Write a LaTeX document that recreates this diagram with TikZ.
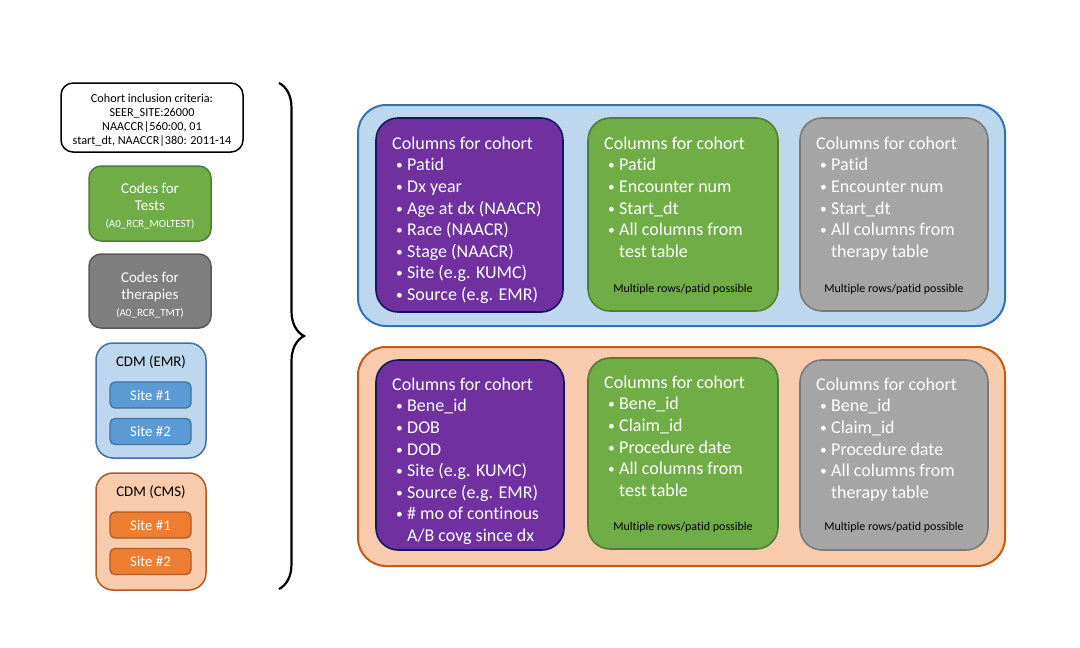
\documentclass[tikz,border=0pt]{standalone}
\usepackage{fontspec}
\setmainfont[RawFeature=-liga]{Carlito}
\usetikzlibrary{decorations.pathreplacing}
\definecolor{lblue}{HTML}{BDD7EE}
\definecolor{bblue}{HTML}{2E75B6}
\definecolor{mblue}{HTML}{5B9BD5}
\definecolor{dblue}{HTML}{41719C}
\definecolor{lorange}{HTML}{F8CBAD}
\definecolor{borange}{HTML}{C55A11}
\definecolor{morange}{HTML}{ED7D31}
\definecolor{dorange}{HTML}{AE5A21}
\definecolor{purp}{HTML}{7030A0}
\definecolor{bpurp}{HTML}{161660}
\definecolor{grn}{HTML}{70AD47}
\definecolor{bgrn}{HTML}{507E32}
\definecolor{gry}{HTML}{A5A5A5}
\definecolor{bgry}{HTML}{7A7A7A}
\definecolor{dgry}{HTML}{7F7F7F}
\definecolor{bdgry}{HTML}{5A5A5A}
\newcommand\bi[1]{\hspace*{4pt}\makebox[11pt][l]{\raisebox{0.1ex}{\scalebox{0.75}{\textbullet}}}#1}
\newcommand\ci[1]{\hspace*{15pt}#1}
\tikzset{
  bigbox/.style={draw, rounded corners=28pt, line width=2pt, anchor=north west, outer sep=0, inner sep=0},
  colbox/.style={draw, rounded corners=22pt, line width=1.6pt, anchor=north west, outer sep=0, inner sep=0},
  coltxt/.style={anchor=north west, inner sep=0, align=left, text=white, font=\fontsize{18}{21.6}\selectfont},
  multi/.style={anchor=center, inner sep=0, text=black, font=\fontsize{12}{14}\selectfont},
  leftbox/.style={draw, rounded corners=12pt, line width=1.5pt, minimum width=122pt, anchor=north west, inner sep=0, outer sep=0},
  lefttxt/.style={text=white, align=center, inner sep=0, font=\fontsize{15}{17.3}\selectfont},
  cdmbox/.style={draw, rounded corners=17pt, line width=1.5pt, minimum width=110pt, anchor=north west, inner sep=0, outer sep=0},
  sitebox/.style={draw, rounded corners=5pt, line width=1.3pt, minimum width=81pt, minimum height=26pt, text=white, inner sep=0, outer sep=0, font=\fontsize{14.8}{16}\selectfont},
}
\begin{document}
\begin{tikzpicture}[x=1pt,y=-1pt]
\useasboundingbox (0,0) rectangle (1080,648);
% left column
\node[draw, rounded corners=12pt, line width=1.5pt, minimum width=182pt, minimum height=69pt, inner sep=0, outer sep=0, anchor=north west] (crit) at (61,83) {};
\node[align=center, inner sep=0, font=\fontsize{12.2}{14}\selectfont] (critt) at (152,120)
  {Cohort inclusion criteria:\\SEER\_SITE:26000\\NAACCR|560:00, 01\\start\_dt, NAACCR|380: 2011-14};
\node[leftbox, fill=grn, draw=bgrn, minimum height=75pt] (tests) at (89,166) {};
\node[lefttxt] (testst) at (150,206)
  {Codes for\\Tests\\{\fontsize{11}{12}\selectfont (A0\_RCR\_MOLTEST)}};
\node[leftbox, fill=dgry, draw=bdgry, minimum height=74pt] (ther) at (89,254) {};
\node[lefttxt] (thert) at (150,295)
  {Codes for\\therapies\\{\fontsize{11}{12}\selectfont (A0\_RCR\_TMT)}};
\node[cdmbox, fill=lblue, draw=dblue, minimum height=115pt] (emr) at (96,343) {};
\node[font=\fontsize{14.8}{16}\selectfont, inner sep=0] (emrl) at (151,362) {CDM (EMR)};
\node[sitebox, fill=mblue, draw=dblue] (es1) at (150.5,395) {Site \#1};
\node[sitebox, fill=mblue, draw=dblue] (es2) at (150.5,431.5) {Site \#2};
\node[cdmbox, fill=lorange, draw=dorange, minimum height=117pt] (cms) at (96,473) {};
\node[font=\fontsize{14.8}{16}\selectfont, inner sep=0] (cmsl) at (151,492) {CDM (CMS)};
\node[sitebox, fill=morange, draw=dorange] (cs1) at (150.5,525) {Site \#1};
\node[sitebox, fill=morange, draw=dorange] (cs2) at (150.5,561.5) {Site \#2};
% brace
\coordinate (bt) at (279,83);
\coordinate (bb) at (279,589);
\draw[line width=2.2pt, decorate, decoration={brace, amplitude=25pt, aspect=0.5}] (bt) -- (bb);
% EMR big box
\node[bigbox, fill=lblue, draw=bblue, minimum width=647pt, minimum height=221pt] (emrbig) at (358,105) {};
\node[colbox, fill=purp, draw=bpurp, minimum width=187pt, minimum height=194pt] (p1) at (376,118) {};
\node[colbox, fill=grn, draw=bgrn, minimum width=190pt, minimum height=193pt] (g1) at (588,118) {};
\node[colbox, fill=gry, draw=bgry, minimum width=188pt, minimum height=193pt] (r1) at (800,118) {};
\node[coltxt] (p1t) at (392,136.5) {Columns for cohort\\\bi{Patid}\\\bi{Dx year}\\\bi{Age at dx (NAACR)}\\\bi{Race (NAACR)}\\\bi{Stage (NAACR)}\\\bi{Site (e.g. KUMC)}\\\bi{Source (e.g. EMR)}};
\node[coltxt] (g1t) at (604,136.5) {Columns for cohort\\\bi{Patid}\\\bi{Encounter num}\\\bi{Start\_dt}\\\bi{All columns from}\\\ci{test table}};
\node[coltxt] (r1t) at (816,136.5) {Columns for cohort\\\bi{Patid}\\\bi{Encounter num}\\\bi{Start\_dt}\\\bi{All columns from}\\\ci{therapy table}};
\node[multi] (g1m) at (683,289) {Multiple rows/patid possible};
\node[multi] (r1m) at (894,289) {Multiple rows/patid possible};
% CMS big box
\node[bigbox, fill=lorange, draw=borange, minimum width=647pt, minimum height=219pt] (cmsbig) at (358,347) {};
\node[colbox, fill=purp, draw=bpurp, minimum width=188pt, minimum height=190pt] (p2) at (376,360) {};
\node[colbox, fill=grn, draw=bgrn, minimum width=190pt, minimum height=191pt] (g2) at (588,358) {};
\node[colbox, fill=gry, draw=bgry, minimum width=188pt, minimum height=190pt] (r2) at (800,360) {};
\node[coltxt] (p2t) at (392,377.5) {Columns for cohort\\\bi{Bene\_id}\\\bi{DOB}\\\bi{DOD}\\\bi{Site (e.g. KUMC)}\\\bi{Source (e.g. EMR)}\\\bi{\# mo of continous}\\\ci{A/B covg since dx}};
\node[coltxt] (g2t) at (604,375.5) {Columns for cohort\\\bi{Bene\_id}\\\bi{Claim\_id}\\\bi{Procedure date}\\\bi{All columns from}\\\ci{test table}};
\node[coltxt] (r2t) at (816,377.5) {Columns for cohort\\\bi{Bene\_id}\\\bi{Claim\_id}\\\bi{Procedure date}\\\bi{All columns from}\\\ci{therapy table}};
\node[multi] (g2m) at (683,527) {Multiple rows/patid possible};
\node[multi] (r2m) at (894,527) {Multiple rows/patid possible};
\end{tikzpicture}
\end{document}
